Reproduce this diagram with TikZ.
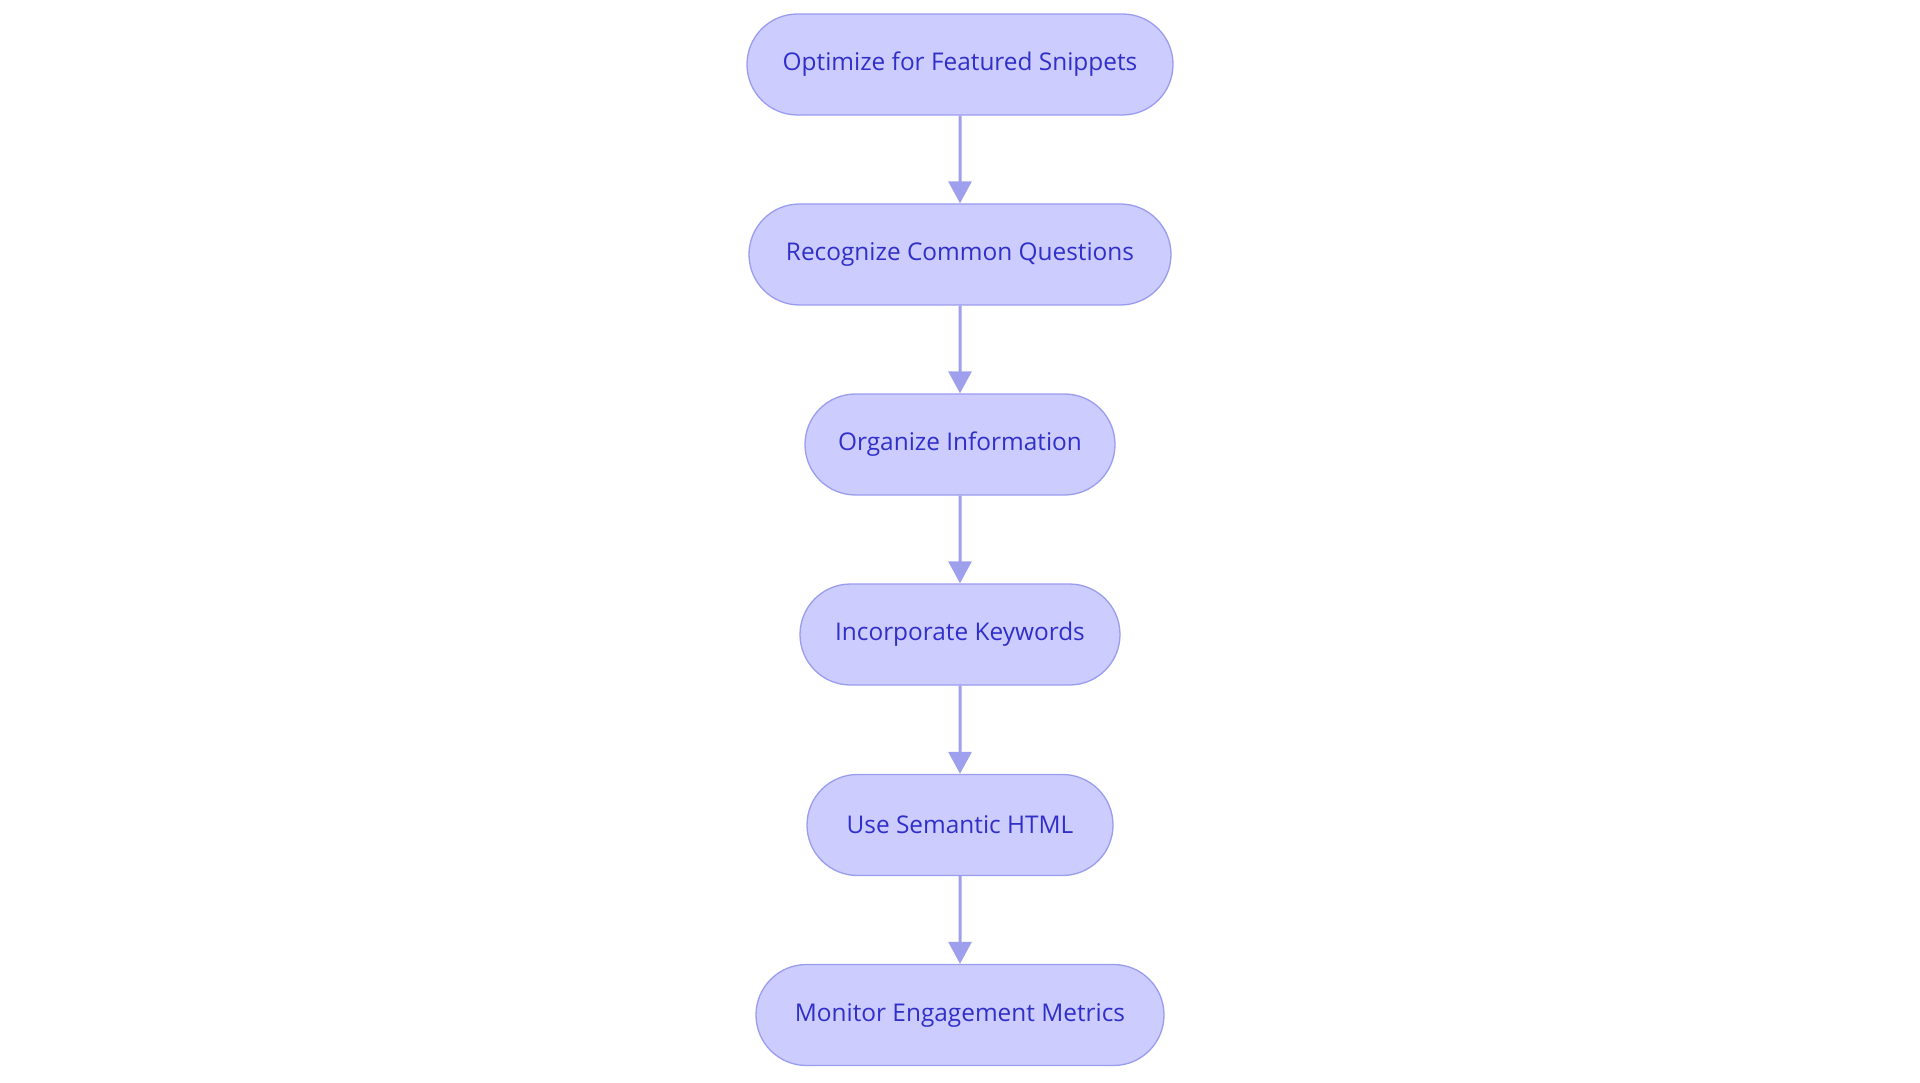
\documentclass[tikz,border=0pt]{standalone}
\usepackage{fontspec}
\setmainfont{Open Sans}
\usetikzlibrary{shapes.misc,arrows.meta}
\definecolor{boxfill}{HTML}{CCCCFF}
\definecolor{boxline}{HTML}{9A9CEE}
\definecolor{boxtext}{HTML}{3030C8}
\definecolor{arrowcol}{HTML}{9EA0EE}
\tikzset{
  stepbox/.style={rounded rectangle, draw=boxline, line width=1.3pt, fill=boxfill,
    text=boxtext, minimum height=101pt, inner xsep=0pt,
    font=\fontsize{24.4}{28}\selectfont},
  flowarrow/.style={draw=arrowcol, line width=3pt, -{Triangle[length=22pt,width=23pt]}, shorten >=0pt}
}
\begin{document}
\begin{tikzpicture}[x=1pt,y=-1pt]
\useasboundingbox (0,0) rectangle (1920,1083);
\node[stepbox, minimum width=426pt] (n1) at (960,64.5) {Optimize for Featured Snippets};
\node[stepbox, minimum width=422pt] (n2) at (960,254.5) {Recognize Common Questions};
\node[stepbox, minimum width=310pt] (n3) at (960,444.5) {Organize Information};
\node[stepbox, minimum width=320pt] (n4) at (960,634.5) {Incorporate Keywords};
\node[stepbox, minimum width=306pt] (n5) at (960,825) {Use Semantic HTML};
\node[stepbox, minimum width=408pt] (n6) at (960,1015) {Monitor Engagement Metrics};
\draw[flowarrow] (n1) -- (n2);
\draw[flowarrow] (n2) -- (n3);
\draw[flowarrow] (n3) -- (n4);
\draw[flowarrow] (n4) -- (n5);
\draw[flowarrow] (n5) -- (n6);
\end{tikzpicture}
\end{document}
